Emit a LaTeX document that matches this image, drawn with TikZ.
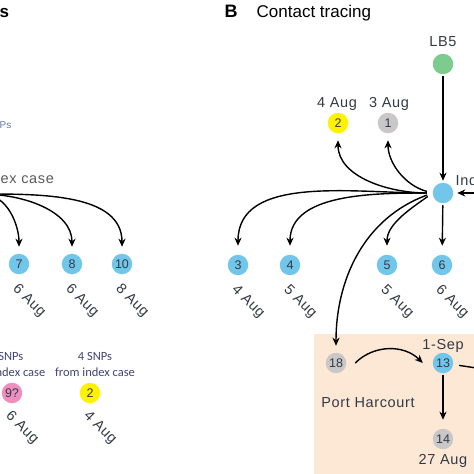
\documentclass[tikz,border=0pt]{standalone}
\usepackage{fontspec}
\setmainfont{Liberation Sans}
\newfontfamily\snpfont{Carlito}
\newfontfamily\labfont[LetterSpace=4.5]{Liberation Sans}
\usetikzlibrary{arrows.meta,calc,positioning}

\definecolor{cblue}{HTML}{72C6EA}
\definecolor{cgrey}{HTML}{C9C7C7}
\definecolor{cyellow}{HTML}{FFF200}
\definecolor{cgreen}{HTML}{7DCB8D}
\definecolor{cpink}{HTML}{EE8FBF}
\definecolor{cpeach}{HTML}{FCE8D5}
\definecolor{ctext}{HTML}{333A44}
\definecolor{csnp}{HTML}{3F4577}
\definecolor{cfade}{HTML}{6A78A6}

\newcommand{\casefont}{\fontsize{12.5}{14}\selectfont}
\newcommand{\datefont}{\labfont\fontsize{14.5}{16}\selectfont}
\def\nodesize{20.5pt}

\tikzset{
  casenode/.style={
    circle,
    minimum size=\nodesize,
    inner sep=0pt,
    outer sep=0pt,
    fill=#1,
    text=ctext,
    font=\casefont
  },
  bluecase/.style={casenode=cblue},
  greycase/.style={casenode=cgrey},
  yellowcase/.style={casenode=cyellow},
  greencase/.style={casenode=cgreen},
  pinkcase/.style={casenode=cpink},
}
\tikzset{
  datelab/.style={rotate=-45, text=ctext, font=\datefont, inner sep=0pt},
  plainlab/.style={text=ctext, font=\datefont, inner sep=0pt},
  snplab/.style={text=csnp, font=\snpfont\fontsize{12.5}{16}\selectfont, inner sep=0pt},
  titlelab/.style={text=black, font=\fontsize{17}{19}\selectfont, inner sep=0pt},
  conn/.style={->, shorten >=7pt, shorten <=2pt},
}

\begin{document}
\begin{tikzpicture}[x=1pt, y=-1pt, line width=1.4pt,
    >={Stealth[length=8pt,width=7pt,inset=2.5pt]}]
    \useasboundingbox (0,0) rectangle (474,474);
    \clip (0,0) rectangle (474,474);

    %% Port Harcourt
    \fill[cpeach] (314,334) rectangle (480,480);
    \node[plainlab, anchor=base] (ph) at (368,407) {Port Harcourt};

    %% Titles
    \node[titlelab, font=\fontsize{17}{19}\selectfont\bfseries, anchor=base west] (ta) at (-1,17) {s};
    \node[titlelab, font=\fontsize{18}{19}\selectfont\bfseries, anchor=base west] (tb) at (224,17) {B};
    \node[titlelab, anchor=base west] (tc) at (256,17) {Contact tracing};

    %% Panel A (cut at the left)
    \coordinate (lidx) at (-20,194);
    \node[text=cfade, font=\fontsize{10}{12}\selectfont, inner sep=0pt, anchor=base west] (lsnp) at (-1,128) {Ps};
    \node[plainlab, text=black!65, anchor=base west] (lcase) at (0,183) {ex case};

    \node[bluecase] (n7) at (19,264) {7};
    \node[bluecase] (n8) at (72,264) {8};
    \node[bluecase] (n10) at (122,264) {10};
    \node[datelab] (d7) at ($(n7)+(10,37)$) {6 Aug};
    \node[datelab] (d8) at ($(n8)+(10,37)$) {6 Aug};
    \node[datelab] (d10) at ($(n10)+(10,37)$) {8 Aug};

    \node[snplab, anchor=base east] (s1a) at (24,360) {SNPs};
    \node[snplab, anchor=base east] (s1b) at (46,376) {ndex case};
    \node[snplab, anchor=base] (s2a) at (95,360) {4 SNPs};
    \node[snplab, anchor=base] (s2b) at (95,376) {from index case};
    \node[pinkcase] (n9) at (12,393) {9?};
    \node[yellowcase] (l2) at (90,393) {2};
    \node[datelab] (d9) at ($(n9)+(10,35)$) {6 Aug};
    \node[datelab] (dl2) at ($(l2)+(10,35)$) {4 Aug};

    %% Panel B
    \node[greencase] (lb5) at (443,64) {};
    \node[plainlab, anchor=base] (lb5l) at (443,46) {LB5};
    \node[bluecase] (idx) at (443,193) {};
    \node[plainlab, anchor=base west] (idxl) at (455,185) {Ind};
    \coordinate (rin) at (492,193);

    \node[yellowcase] (r2) at (338,123) {2};
    \node[greycase] (r1) at (388,123) {1};
    \node[plainlab, anchor=base] (dr2) at (337,107) {4 Aug};
    \node[plainlab, anchor=base] (dr1) at (389,107) {3 Aug};

    \node[bluecase] (r3) at (238,265) {3};
    \node[bluecase] (r4) at (290,265) {4};
    \node[bluecase] (r5) at (387,265) {5};
    \node[bluecase] (r6) at (442,265) {6};
    \node[datelab] (dr3) at ($(r3)+(10,37)$) {4 Aug};
    \node[datelab] (dr4) at ($(r4)+(10,37)$) {5 Aug};
    \node[datelab] (dr5) at ($(r5)+(10,37)$) {5 Aug};
    \node[datelab] (dr6) at ($(r6)+(10,37)$) {6 Aug};

    \node[greycase] (r18) at (336,363) {18};
    \node[bluecase] (r13) at (443,363) {13};
    \node[greycase] (r14) at (443,439) {14};
    \node[plainlab, anchor=base] (d13) at (443,349) {1-Sep};
    \node[plainlab, anchor=base] (d14) at (443,464) {27 Aug};
    \coordinate (rout) at (490,370);

    %% Edges

    % Panel A fan
    \draw[conn] (lidx) to[out=0, in=90] (n7);
    \draw[conn] (lidx) to[out=0, in=90] (n8);
    \draw[conn] (lidx) to[out=0, in=90] (n10);

    % LB5 and the right-hand link into the index case
    \draw[conn, shorten >=2pt] (lb5) -- (idx);
    \draw[conn, shorten >=4pt] (rin) -- (idx);

    % Index case to contacts
    \draw[conn, shorten <=6pt] (idx.west) to[out=180, in=-90] (r2);
    \draw[conn, shorten <=6pt] (idx.west) to[out=165, in=-90] (r1);
    \draw[conn, shorten <=6pt, shorten >=9pt] (idx.west) to[out=180, in=90] (r3);
    \draw[conn, shorten <=6pt, shorten >=9pt] (idx.west) to[out=180, in=90] (r4);
    \draw[conn, shorten <=6pt, shorten >=9pt] (idx.west) to[out=215, in=90] (r5);
    \draw[conn, shorten <=6pt] (idx.west) to[out=200, in=90] (r18);
    \draw[conn, shorten >=9pt] (idx) -- (r6);

    % Port Harcourt
    \draw[->] ([xshift=9pt]r18.east) to[out=45, in=135] ([xshift=-10pt]r13.west);
    \draw[conn, shorten >=9pt] (r13) -- (r14);
    \draw[shorten <=6pt] (r13) -- (rout);

  \end{tikzpicture}
\end{document}
